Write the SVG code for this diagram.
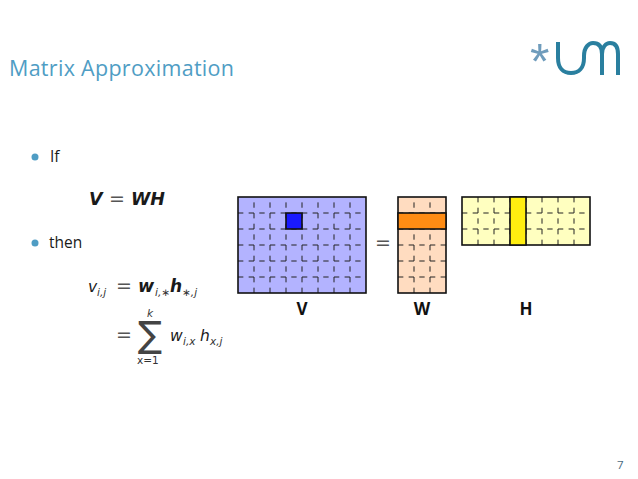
<svg xmlns="http://www.w3.org/2000/svg" width="638" height="479" viewBox="0 0 638 479">
<style>
text{font-family:"Open Sans","DejaVu Sans",sans-serif;fill:#1a1a1a}
.m{font-family:"DejaVu Sans",sans-serif;font-style:oblique}
.b{font-weight:700}
.s{font-size:10.5px;fill:#333}
.lab{font-family:"Open Sans",sans-serif;font-weight:700;font-size:17px;text-anchor:middle;fill:#111}
.eq{font-family:"DejaVu Sans",sans-serif;font-style:normal;fill:#555;font-size:19px}
.g{fill:none;stroke:#222;stroke-width:1;stroke-dasharray:5.33 5.33}
.o{fill:none;stroke:#111;stroke-width:1.6}
</style>
<rect width="638" height="479" fill="#fff"/>
<g id="title"><text x="9" y="76" font-size="21.5" style="fill:#4f9dc4" textLength="225">Matrix Approximation</text></g>
<g id="logo"><text x="530" y="79" font-size="50" style="font-family:'Liberation Sans',sans-serif;fill:#6f9cbc">*</text>
<path d="M558 42V58C558 68 563 73 571 73C579 73 584 68 584 58V56C584 47 589 43 593 43C599 43 602 47 602 54V75M602 54C602 47 606 43 610 43C616 43 618 47 618 54V75" fill="none" stroke="#2a7f9f" stroke-width="4"/></g>
<g id="bullets"><circle cx="35" cy="157" r="3.5" fill="#4f9dc4"/><circle cx="35" cy="243" r="3.5" fill="#4f9dc4"/>
<text x="50" y="162" font-size="15.5">If</text><text x="49" y="248" font-size="15.5">then</text></g>
<g id="eq1"><text class="m b" x="89" y="205" font-size="17.5">V</text><text class="eq" x="109" y="205">=</text><text class="m b" x="131" y="205" font-size="17.5">WH</text></g>
<g id="eq2"><text class="m" x="88" y="292" font-size="15.5">v</text><text class="m s" x="97" y="296">i,j</text><text class="eq" x="116" y="292">=</text>
<text class="m b" x="138" y="292" font-size="17.5">w</text><text class="m s" x="155" y="296">i,∗</text><text class="m b" x="170" y="292" font-size="17">h</text><text class="m s" x="182" y="296">∗,j</text></g>
<g id="eq3"><text class="eq" x="116" y="341">=</text>
<text class="m s" x="147" y="317">k</text>
<text class="eq" x="138" y="347" style="font-size:36px;fill:#444">∑</text>
<text class="s" x="137" y="364" style="font-family:'DejaVu Sans',sans-serif">x=1</text>
<text class="m" x="170" y="341" font-size="15.5">w</text><text class="m s" x="183" y="345">i,x</text><text class="m" x="200" y="341" font-size="15.5">h</text><text class="m s" x="210" y="345">x,j</text></g>
<g id="V"><rect x="238" y="197" width="128" height="96" fill="#b3b3ff"/>
<path class="g" d="M254 293V197M270 293V197M286 293V197M302 293V197M318 293V197M334 293V197M350 293V197M238 213H366M238 229H366M238 245H366M238 261H366M238 277H366"/>
<rect class="o" x="238" y="197" width="128" height="96"/>
<rect x="286" y="213" width="16" height="16" fill="#1a1aff" stroke="#111" stroke-width="1.6"/>
<text class="lab" x="302" y="315">V</text></g>
<g id="equals"><text class="eq" x="375" y="249">=</text></g>
<g id="W"><rect x="398" y="197" width="48" height="96" fill="#ffdcc0"/>
<path class="g" d="M414 293V197M430 293V197M398 213H446M398 229H446M398 245H446M398 261H446M398 277H446"/>
<rect class="o" x="398" y="197" width="48" height="96"/>
<rect x="398" y="213" width="48" height="16" fill="#ff8c14" stroke="#111" stroke-width="1.6"/>
<text class="lab" x="422" y="315">W</text></g>
<g id="H"><rect x="462" y="197" width="128" height="48" fill="#ffffc0"/>
<path class="g" d="M478 245V197M494 245V197M510 245V197M526 245V197M542 245V197M558 245V197M574 245V197M462 213H590M462 229H590"/>
<rect class="o" x="462" y="197" width="128" height="48"/>
<rect x="510" y="197" width="16" height="48" fill="#ffee10" stroke="#111" stroke-width="1.6"/>
<text class="lab" x="526" y="315">H</text></g>
<g id="page"><text x="617" y="469" font-size="11.5" style="fill:#4a6a80">7</text></g>
</svg>
